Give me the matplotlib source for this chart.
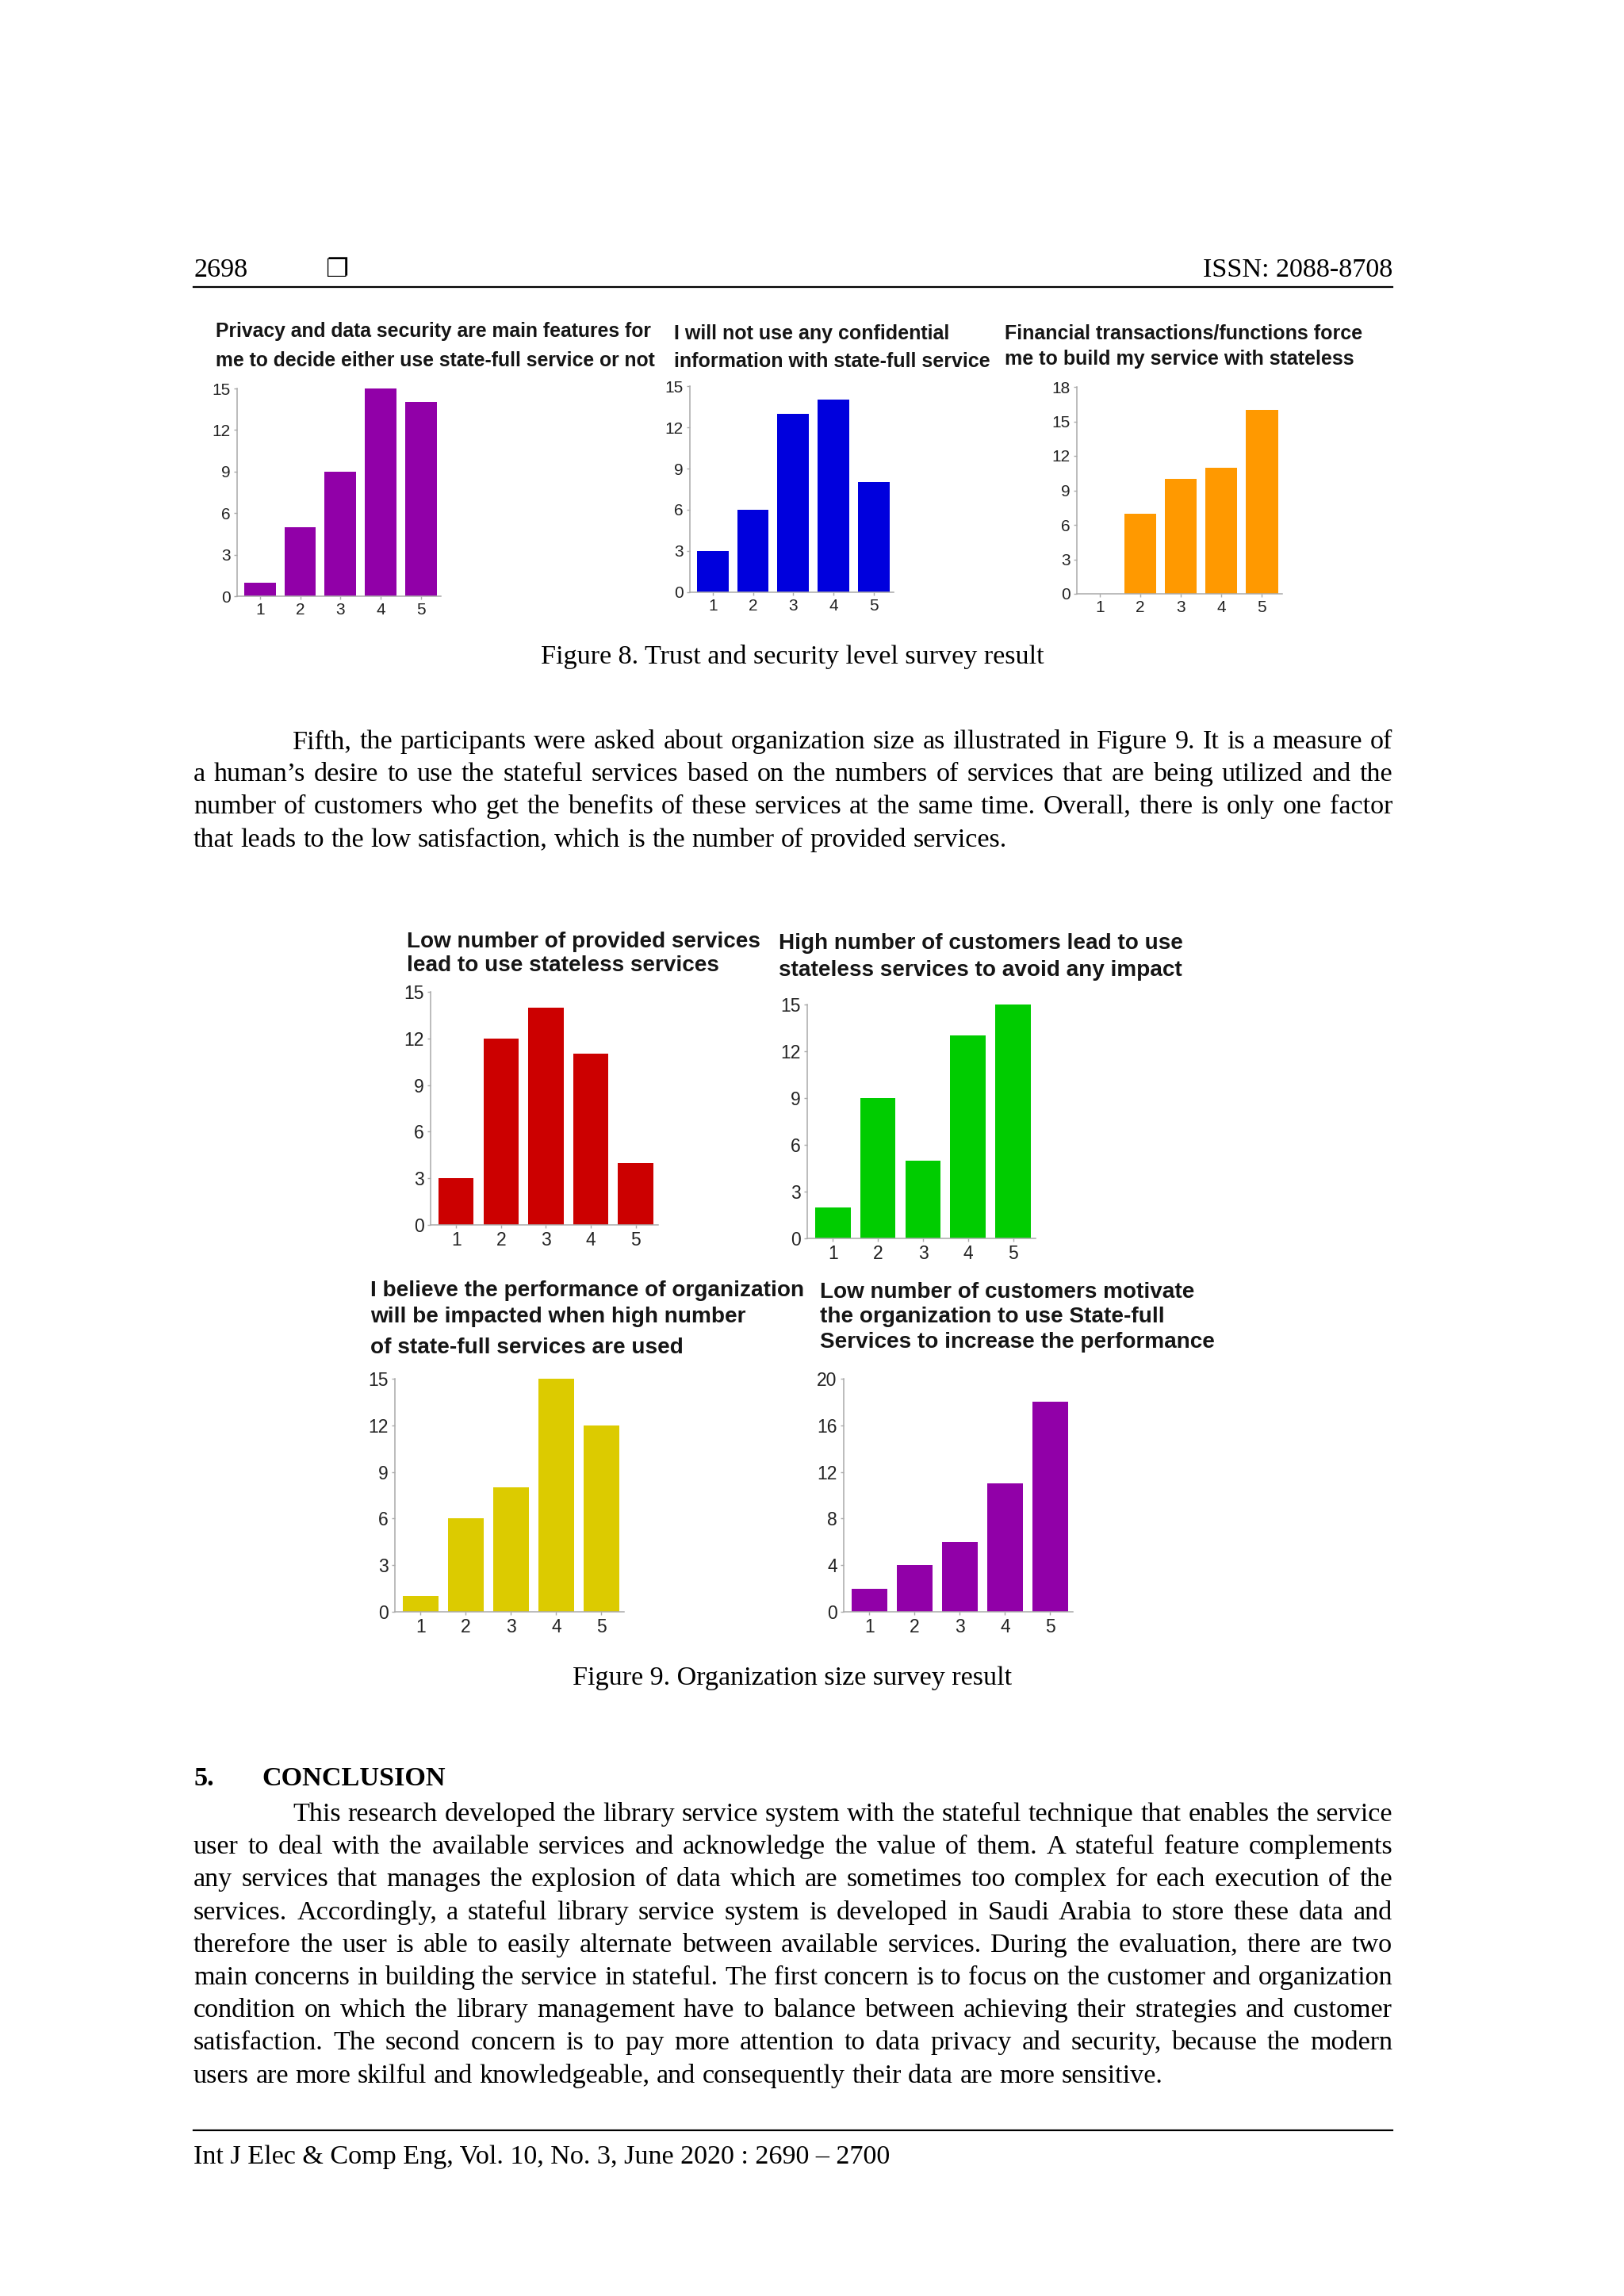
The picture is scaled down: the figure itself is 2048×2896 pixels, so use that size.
import matplotlib
matplotlib.use("Agg")
import matplotlib.pyplot as plt

# survey answers (Likert scale 1..5), counts
categories = [1, 2, 3, 4, 5]
privacy_security = [1, 5, 9, 15, 14]
confidential_info = [3, 6, 13, 14, 8]
financial_stateless = [0, 7, 10, 11, 16]
low_services = [3, 12, 14, 11, 4]
high_customers = [2, 9, 5, 13, 15]
performance_impact = [1, 6, 8, 15, 12]
low_customers = [2, 4, 6, 11, 18]

titles = [
    ["Privacy and data security are main features for",
     "me to decide either use state-full service or not"],
    ["I will not use any confidential",
     "information with state-full service"],
    ["Financial transactions/functions force",
     "me to build my service with stateless"],
    ["Low number of provided services",
     "lead to use stateless services"],
    ["High number of customers lead to use",
     "stateless services to avoid any impact"],
    ["I believe the performance of organization",
     "will be impacted when high number",
     "of state-full services are used"],
    ["Low number of customers motivate",
     "the organization to use State-full",
     "Services to increase the performance"],
]

para_fifth = [
    "Fifth, the participants were asked about organization size as illustrated in Figure 9. It is a measure of",
    "a human\u2019s desire to use the stateful services based on the numbers of services that are being utilized and the",
    "number of customers who get the benefits of these services at the same time. Overall, there is only one factor",
    "that leads to the low satisfaction, which is the number of provided services.",
]
para_conclusion = [
    "This research developed the library service system with the stateful technique that enables the service",
    "user to deal with the available services and acknowledge the value of them. A stateful feature complements",
    "any services that manages the explosion of data which are sometimes too complex for each execution of the",
    "services. Accordingly, a stateful library service system is developed in Saudi Arabia to store these data and",
    "therefore the user is able to easily alternate between available services. During the evaluation, there are two",
    "main concerns in building the service in stateful. The first concern is to focus on the customer and organization",
    "condition on which the library management have to balance between achieving their strategies and customer",
    "satisfaction. The second concern is to pay more attention to data privacy and security, because the modern",
    "users are more skilful and knowledgeable, and consequently their data are more sensitive.",
]

# ---- page layout (pixels of a 2048x2896 page) ----
W, H = 2048, 2896
fig = plt.figure(figsize=(W / 100, H / 100), dpi=100)
fig.patch.set_facecolor("white")
renderer = fig.canvas.get_renderer()

SERIF = "Liberation Serif"
SANS = "Liberation Sans"


def fx(x):
    return x / W


def fy(y):
    return 1 - y / H


def text_width(s, **kw):
    t = fig.text(0, 0, s, **kw)
    w = t.get_window_extent(renderer).width
    t.remove()
    return w


def fit_size(s, target, ref=20, **kw):
    return ref * target / text_width(s, fontsize=ref, **kw)


def put_line(line, x0, x1, y, justify=True, **kw):
    words = line.split(" ")
    widths = [text_width(w, **kw) for w in words]
    if justify and len(words) > 1:
        gap = (x1 - x0 - sum(widths)) / (len(words) - 1)
    else:
        gap = text_width("a a", **kw) - text_width("aa", **kw)
    x = x0
    for w, wd in zip(words, widths):
        fig.text(fx(x), fy(y), w, va="baseline", ha="left", **kw)
        x += wd + gap


# body size fitted to the figure 8 caption width
body = fit_size("Figure 8. Trust and security level survey result", 635, family=SERIF)
body_kw = dict(family=SERIF, fontsize=body, color="black")

# running header
fig.text(fx(245), fy(349), "2698", va="baseline", **body_kw)
fig.text(fx(410), fy(349), "\u2750", va="baseline", family="DejaVu Sans",
         fontsize=body * 0.95, color="black")
fig.text(fx(1756), fy(349), "ISSN: 2088-8708", va="baseline", ha="right", **body_kw)
fig.add_artist(plt.Line2D([fx(244), fx(1756)], [fy(362), fy(362)], color="black", lw=1.6))

# ---- charts ----
charts = [
    (privacy_security, "#9100a8", 15, 3, (299, 490, 556, 752), 15),
    (confidential_info, "#0000dd", 15, 3, (870, 487, 1127, 747), 15),
    (financial_stateless, "#ff9900", 18, 3, (1358, 488, 1617, 749), 15),
    (low_services, "#cc0000", 15, 3, (543, 1251, 830, 1545), 16.5),
    (high_customers, "#00cc00", 15, 3, (1018, 1267, 1306, 1562), 16.5),
    (performance_impact, "#dccb00", 15, 3, (498, 1739, 787, 2033), 16.5),
    (low_customers, "#9100a8", 20, 4, (1064, 1739, 1353, 2033), 16.5),
]
title_pos = [
    (272, 822, [425, 462]),
    (850, 1197, [428, 463]),
    (1267, 1718, [427, 460]),
    (513, 958, [1195, 1225]),
    (982, 1491, [1197, 1231]),
    (467, 1012, [1635, 1668, 1707]),
    (1034, 1506, [1637, 1668, 1700]),
]

for (vals, color, ymax, step, box, tsize), lines, (tx0, tx1, tys) in zip(charts, titles, title_pos):
    left, top, right, bottom = box
    ax = fig.add_axes([fx(left), fy(bottom), (right - left) / W, (bottom - top) / H])
    ax.bar(categories, vals, width=0.785, color=color, linewidth=0)
    ax.set_xlim(0.43, 5.5)
    ax.set_ylim(0, ymax)
    ax.set_xticks(categories)
    ax.set_yticks(range(0, ymax + 1, step))
    ax.patch.set_alpha(0)
    for side in ["top", "right"]:
        ax.spines[side].set_visible(False)
    for side in ["left", "bottom"]:
        ax.spines[side].set_color("#aaaaaa")
        ax.spines[side].set_linewidth(1.1)
    ax.tick_params(length=3, width=1, color="#aaaaaa", labelcolor="#222222",
                   labelsize=tsize, pad=3)
    for lab in ax.get_xticklabels() + ax.get_yticklabels():
        lab.set_family(SANS)

    size = fit_size(lines[0], tx1 - tx0, family=SANS, weight="bold")
    for line, ty in zip(lines, tys):
        fig.text(fx(tx0), fy(ty), line, va="baseline", ha="left", family=SANS,
                 weight="bold", fontsize=size, color="#151515")

fig.text(0.5 * (681 + 1317) / W, fy(837), "Figure 8. Trust and security level survey result",
         ha="center", va="baseline", **body_kw)
fig.text(fx(999), fy(2125), "Figure 9. Organization size survey result",
         ha="center", va="baseline", **body_kw)

# ---- paragraphs ----
lead = 41.2
for i, line in enumerate(para_fifth):
    x0 = 369 if i == 0 else 244
    put_line(line, x0, 1756, 944 + i * lead, justify=i < len(para_fifth) - 1, **body_kw)

fig.text(fx(244), fy(2252), "5.", va="baseline", weight="bold", **body_kw)
fig.text(fx(330), fy(2252), "CONCLUSION", va="baseline", weight="bold", **body_kw)
for i, line in enumerate(para_conclusion):
    x0 = 369 if i == 0 else 244
    put_line(line, x0, 1756, 2297 + i * lead, justify=i < len(para_conclusion) - 1, **body_kw)

# footer
fig.add_artist(plt.Line2D([fx(244), fx(1756)], [fy(2687), fy(2687)], color="black", lw=1.6))
fig.text(fx(244), fy(2729), "Int J Elec & Comp Eng, Vol. 10, No. 3, June 2020 : 2690 \u2013 2700",
         va="baseline", **body_kw)

fig.savefig("out.png", dpi=100, facecolor="white")
